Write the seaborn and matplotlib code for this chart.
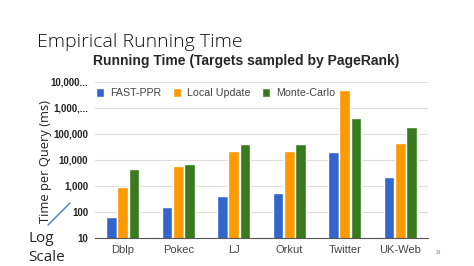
import pandas as pd
import seaborn as sns
import matplotlib.pyplot as plt

# data (ms per query, log scale)
graphs = ["Dblp", "Pokec", "LJ", "Orkut", "Twitter", "UK-Web"]
methods = ["FAST-PPR", "Local Update", "Monte-Carlo"]
fast_ppr = [66, 150, 420, 550, 20000, 2100]
local_update = [890, 5900, 22800, 22800, 4900000, 44000]
monte_carlo = [4500, 7000, 41000, 41000, 400000, 190000]
ytick_vals = [10, 100, 1000, 10000, 100000, 1000000, 10000000]
ytick_labels = ["10", "100", "1,000", "10,000", "100,000", "1,000,...", "10,000..."]
colors = ["#3366cc", "#ff9900", "#3a7a1f"]

df = pd.DataFrame({
    "graph": graphs * 3,
    "method": [methods[0]] * 6 + [methods[1]] * 6 + [methods[2]] * 6,
    "time": fast_ppr + local_update + monte_carlo,
})

sns.set_style("white")
plt.rcParams['font.family'] = ['Liberation Sans', 'DejaVu Sans']

fig = plt.figure(figsize=(4.74, 2.66), dpi=100)
ax = fig.add_axes([0.2004, 0.1053, 0.7026, 0.5877])

sns.barplot(data=df, x="graph", y="time", hue="method", palette=colors,
            width=0.6, gap=0.04, ax=ax, saturation=1)
ax.set_yscale("log")

ax.set_ylim(10, 10000000)
ax.set_yticks(ytick_vals)
ax.set_yticklabels(ytick_labels, fontsize=7, fontweight="bold", color="#222222")
ax.minorticks_off()
ax.set_xlabel("")
ax.set_ylabel("")
ax.tick_params(axis="x", labelsize=8, colors="#444444", length=0, pad=5)
ax.tick_params(axis="y", length=3, color="#cccccc", pad=2)
ax.grid(axis="y", color="#dddddd", linewidth=0.8)
ax.set_axisbelow(True)
for s in ["top", "right", "left"]:
    ax.spines[s].set_visible(False)
ax.spines["bottom"].set_color("#555555")

ax.legend(loc="upper left", bbox_to_anchor=(-0.01, 0.985), ncol=3, frameon=False,
          fontsize=7.7, handlelength=0.8, handleheight=0.8, handletextpad=0.5,
          columnspacing=1.1, labelcolor="#444444", borderaxespad=0)

fig.text(0.078, 0.842, "Empirical Running Time", fontsize=14, family="Open Sans",
         fontweight="light", color="#111111", va="center")
fig.text(0.52, 0.771, "Running Time (Targets sampled by PageRank)", fontsize=10,
         fontweight="bold", ha="center", va="center")
fig.text(0.095, 0.391, "Time per Query (ms)", fontsize=9.3, family="Open Sans",
         rotation=90, ha="center", va="center", color="#222222")
fig.text(0.06, 0.105, "Log", fontsize=11, family="Open Sans", va="center")
fig.text(0.06, 0.033, "Scale", fontsize=11, family="Open Sans", va="center")
fig.add_artist(plt.Line2D([48 / 474, 70 / 474], [1 - 225 / 266, 1 - 203 / 266],
                          color="#4a7ebb", linewidth=1))
fig.text(0.92, 0.045, "14", fontsize=3.5, color="#888888")

fig.savefig("out.png", dpi=100)
